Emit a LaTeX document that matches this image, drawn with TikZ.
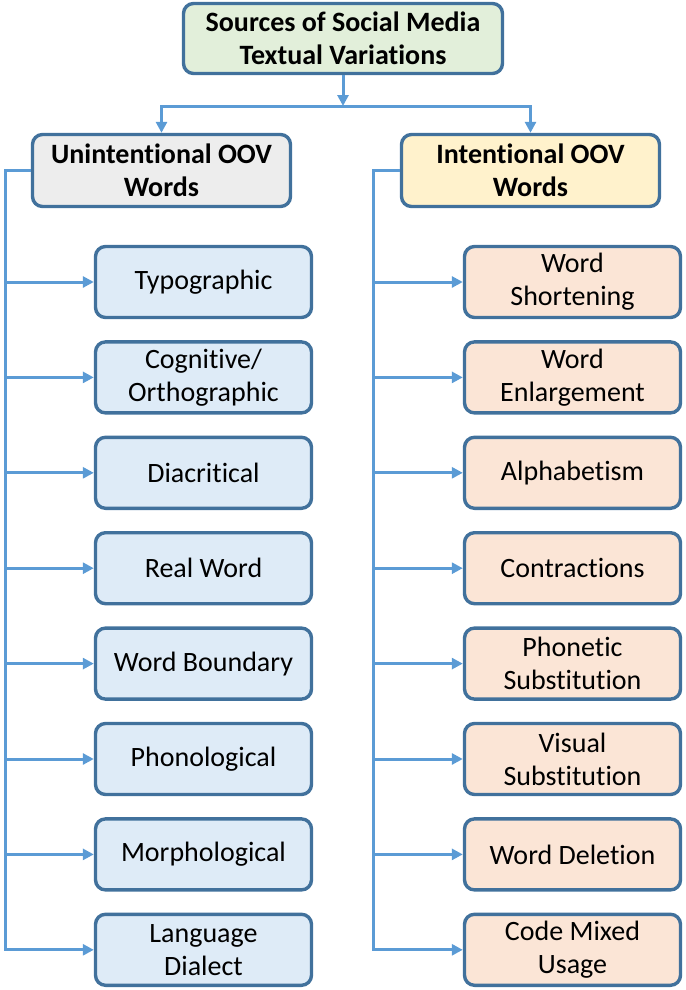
\documentclass[tikz,border=0pt]{standalone}
\usepackage{fontspec}
\setmainfont{Carlito}[Ligatures=CommonOff]
\usetikzlibrary{arrows.meta,calc}
\definecolor{bord}{HTML}{41719C}
\definecolor{conn}{HTML}{5B9BD5}
\definecolor{topfill}{HTML}{E2EFDA}
\definecolor{lhfill}{HTML}{EDEDED}
\definecolor{rhfill}{HTML}{FFF2CC}
\definecolor{lfill}{HTML}{DEEBF7}
\definecolor{rfill}{HTML}{FBE5D6}
\begin{document}
\begin{tikzpicture}[x=1pt,y=-1pt,
  box/.style={draw=bord,line width=3.4pt,rounded corners=10pt,align=center,inner sep=0pt,font=\fontsize{28}{33}\selectfont},
  leaf/.style={box,minimum width=216pt,minimum height=71pt},
  lleaf/.style={leaf,fill=lfill},
  rleaf/.style={leaf,fill=rfill},
  head/.style={box,font=\bfseries\fontsize{28}{33}\selectfont,minimum width=258pt,minimum height=72pt},
  link/.style={draw=conn,line width=3pt},
  tip/.tip={Triangle[length=11pt,width=11pt]},
  arr/.style={link,-tip}
]
\useasboundingbox (0,0) rectangle (685,990);

\node[box,fill=topfill,font=\bfseries\fontsize{28}{33}\selectfont,minimum width=319pt,minimum height=70pt] (top) at (343,38.5) {Sources of Social Media\\Textual Variations};
\node[head,fill=lhfill] (lh) at (161.5,170.5) {Unintentional OOV\\Words};
\node[head,fill=rhfill] (rh) at (530.5,170.5) {Intentional OOV\\Words};

\foreach [count=\i] \t in {Typographic,{Cognitive/\\Orthographic},Diacritical,Real Word,Word Boundary,Phonological,Morphological,{Language\\Dialect}}
  \node[lleaf] (l\i) at (203.5,{282+95.4*(\i-1)}) {\t};
\foreach [count=\i] \t in {{Word\\Shortening},{Word\\Enlargement},Alphabetism,Contractions,{Phonetic\\Substitution},{Visual\\Substitution},Word Deletion,{Code Mixed\\Usage}}
  \node[rleaf] (r\i) at (572.5,{282+95.4*(\i-1)}) {\t};

\coordinate (jn) at (0,106);
\coordinate (lx) at (5,0);
\coordinate (rx) at (373,0);

\draw[arr] (top.south) -- (top.south |- jn);
\draw[link,tip-tip] (lh.north) -- (lh.north |- jn) -- (rh.north |- jn) -- (rh.north);

\draw[arr] (lh.west) -- (lh.west -| lx) -- (lx |- l8.west) -- (l8.west);
\foreach \i in {1,...,7} \draw[arr] (lx |- l\i.west) -- (l\i.west);

\draw[arr] (rh.west) -- (rh.west -| rx) -- (rx |- r8.west) -- (r8.west);
\foreach \i in {1,...,7} \draw[arr] (rx |- r\i.west) -- (r\i.west);
\end{tikzpicture}
\end{document}
